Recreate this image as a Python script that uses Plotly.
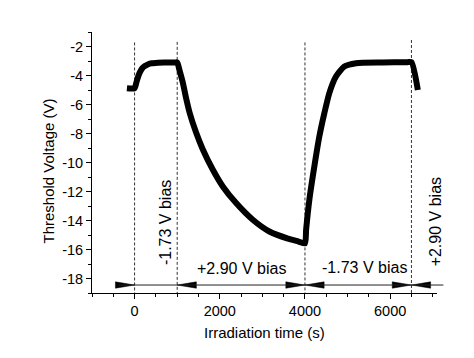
import plotly.graph_objects as go

# ---- data ----
time_s = [-180, 0, 40, 80, 120, 180, 240, 320, 400, 550, 700, 950, 1000,
          1060, 1133, 1212, 1290, 1446, 1602, 1837, 2071, 2384, 2775, 3165, 3600, 3850, 4000,
          4027, 4103, 4220, 4337, 4455, 4572, 4728, 4924, 5198, 5822, 6400, 6500, 6650]
vth_V = [-4.88, -4.88, -4.5, -4.1, -3.8, -3.5, -3.35, -3.22, -3.16, -3.12, -3.1, -3.1, -3.1,
         -3.7, -4.5, -5.6, -6.55, -7.95, -9.1, -10.5, -11.65, -12.8, -13.95, -14.76, -15.25, -15.45, -15.58,
         -14.64, -12.57, -10.28, -8.21, -6.6, -5.21, -4.07, -3.38, -3.15, -3.1, -3.08, -3.08, -5.0]

bias_switch_times = [0, 1000, 4000, 6500]
dash_tops = [-1.72, -1.68, -1.72, -1.55]

# arrow heads: (tip time, direction +1 = pointing right, -1 = pointing left)
arrow_tips = [0, 1000, 4000, 4000, 6500, 6500]
arrow_dirs = [1, -1, 1, -1, 1, -1]
arrow_level = -18.45
arrow_line_span = [-400, 7250]

bias_labels = ["-1.73 V bias", "+2.90 V bias", "-1.73 V bias", "+2.90 V bias"]
label_x = [743, 2510, 5393, 7073]
label_y = [-14.16, -17.28, -17.27, -14.07]
label_angle = [-90, 0, 0, -90]

x_tickvals = [0, 2000, 4000, 6000]
x_ticktext = ["0", "2000", "4000", "6000"]
y_tickvals = [-2, -4, -6, -8, -10, -12, -14, -16, -18]
y_ticktext = ["-2", "-4", "-6", "-8", "-10", "-12", "-14", "-16", "-18"]

FONT = "Liberation Sans, Arial, Helvetica, sans-serif"

fig = go.Figure()

# dashed vertical lines at bias switches
for t, top in zip(bias_switch_times, dash_tops):
    fig.add_trace(go.Scatter(x=[t, t], y=[top, -19], mode="lines",
                             line=dict(color="#333333", width=1, dash="3px,2px"),
                             hoverinfo="skip", showlegend=False))

# arrow heads (filled triangles)
head_len = 450
head_half = 0.22
for tip, d in zip(arrow_tips, arrow_dirs):
    base = tip - d * head_len
    fig.add_trace(go.Scatter(
        x=[tip, base, base, tip],
        y=[arrow_level, arrow_level + head_half, arrow_level - head_half, arrow_level],
        mode="lines", fill="toself", fillcolor="black",
        line=dict(color="black", width=0.5),
        hoverinfo="skip", showlegend=False))

# main curve
fig.add_trace(go.Scatter(x=time_s, y=vth_V, mode="lines",
                         line=dict(color="black", width=6, shape="spline", smoothing=0.6),
                         showlegend=False))

annotations = []
# horizontal arrow line (annotation so it may run past the axis end)
annotations.append(dict(x=arrow_line_span[1], y=arrow_level, ax=arrow_line_span[0], ay=arrow_level,
                        xref="x", yref="y", axref="x", ayref="y", text="",
                        showarrow=True, arrowhead=0, arrowwidth=1, arrowcolor="#222222"))
for txt, lx, ly, ang in zip(bias_labels, label_x, label_y, label_angle):
    annotations.append(dict(x=lx, y=ly, xref="x", yref="y", text=txt, textangle=ang,
                            xanchor="center", yanchor="middle",
                            showarrow=False, font=dict(family=FONT, size=16, color="black")))
annotations.append(dict(x=-0.1275, y=0.4655, xref="paper", yref="paper",
                        xanchor="center", yanchor="middle",
                        text="Threshold Voltage (V)", textangle=-90, showarrow=False,
                        font=dict(family=FONT, size=15, color="black")))
annotations.append(dict(x=0.5, y=-0.15, xref="paper", yref="paper",
                        xanchor="center", yanchor="middle",
                        text="Irradiation time (s)", showarrow=False,
                        font=dict(family=FONT, size=15, color="black")))

fig.update_layout(
    width=474, height=358,
    margin=dict(l=92, r=37, t=32, b=65),
    paper_bgcolor="white", plot_bgcolor="white",
    font=dict(family=FONT, size=15, color="black"),
    annotations=annotations,
    showlegend=False,
)
fig.update_xaxes(range=[-1000, 7100], showgrid=False, zeroline=False,
                 showline=True, linecolor="black", linewidth=1,
                 tickmode="array", tickvals=x_tickvals, ticktext=x_ticktext,
                 ticks="outside", ticklen=5, tickwidth=1, tickcolor="black",
                 minor=dict(dtick=500, tick0=0, ticks="outside", ticklen=3, tickcolor="black"),
                 tickfont=dict(family=FONT, size=14.5))
fig.update_yaxes(range=[-19, -1], showgrid=False, zeroline=False,
                 showline=True, linecolor="black", linewidth=1,
                 tickmode="array", tickvals=y_tickvals, ticktext=y_ticktext,
                 ticks="outside", ticklen=5, tickwidth=1, tickcolor="black",
                 minor=dict(dtick=1, tick0=-1, ticks="outside", ticklen=3, tickcolor="black"),
                 tickfont=dict(family=FONT, size=14.5))

fig.write_html("out.html", config={"displayModeBar": False},
               post_script="document.body.style.margin='0';")
